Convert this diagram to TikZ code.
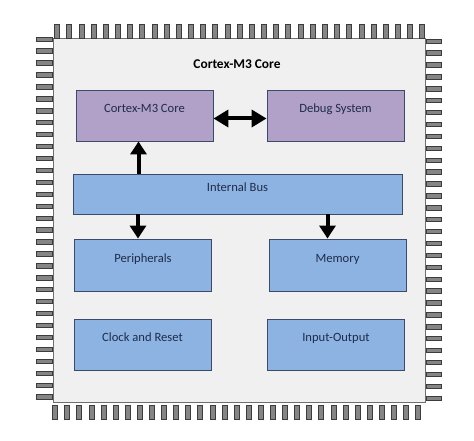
\documentclass[tikz,border=0pt]{standalone}
\usepackage{fontspec}
\setmainfont{Carlito}
\usetikzlibrary{arrows.meta}
\definecolor{chipbg}{HTML}{F0F0F0}
\definecolor{chipline}{HTML}{6E6E6E}
\definecolor{legfill}{HTML}{858585}
\definecolor{legline}{HTML}{3C3C3C}
\definecolor{purplefill}{HTML}{B1A0C7}
\definecolor{bluefill}{HTML}{8DB3E2}
\definecolor{blkline}{HTML}{3B4A66}
\definecolor{blktext}{HTML}{1F2C4A}
\tikzset{blk/.style={draw=blkline,line width=0.9pt,text=blktext,font=\fontsize{12.6}{14}\selectfont,
    minimum width=137pt,minimum height=51pt,inner sep=0pt,text height=8pt,text depth=14pt},
  purplebox/.style={blk,fill=purplefill},
  bluebox/.style={blk,fill=bluefill},
  leg/.style={draw=legline,fill=legfill,line width=0.5pt},
  link/.style={line width=4pt,-{Triangle[width=16pt,length=13pt]}},
  twolink/.style={line width=4pt,{Triangle[width=17pt,length=15pt]}-{Triangle[width=17pt,length=15pt]}}}

\begin{document}
\begin{tikzpicture}[x=1pt,y=-1pt]
\useasboundingbox (0,0) rectangle (474,441);
% package body
\filldraw[fill=chipbg,draw=chipline,line width=0.8pt] (53,38) rectangle (425,402);
% legs
\foreach \i in {0,...,30} {
  \filldraw[leg] ({57+12.17*\i-2.5},24) rectangle ({57+12.17*\i+2.5},38);
  \filldraw[leg] ({55+12.1*\i-2.5},405) rectangle ({55+12.1*\i+2.5},419);
  \filldraw[leg] (36,{39+11.93*\i-2.2}) rectangle (52,{39+11.93*\i+2.2});
  \filldraw[leg] (426,{41+11.9*\i-2.2}) rectangle (441,{41+11.9*\i+2.2});
}
\node[font=\bfseries\fontsize{13.4}{15}\selectfont] (title) at (237,64) {Cortex-M3 Core};
\node[purplebox] (core) at (144.5,115.5) {Cortex-M3 Core};
\node[purplebox] (debug) at (335.5,115.5) {Debug System};
\node[bluebox,minimum width=329pt,minimum height=40pt] (bus) at (237.5,194) {Internal Bus};
\node[bluebox,minimum height=52pt] (periph) at (143,265) {Peripherals};
\node[bluebox,minimum height=52pt] (mem) at (337.5,265) {Memory};
\node[bluebox] (clock) at (142.5,344.5) {Clock and Reset};
\node[bluebox] (io) at (336,344.5) {Input-Output};
% connections
\coordinate (a1) at ([xshift=-6pt]core.south);
\coordinate (a2) at ([xshift=-5pt]periph.north);
\coordinate (a3) at ([xshift=-10pt]mem.north);
\draw[twolink] ([yshift=-3pt]core.east) -- ([yshift=-3pt]debug.west);
\draw[link] (a1 |- bus.north) -- (a1);
\draw[link] (a2 |- bus.south) -- (a2);
\draw[link] (a3 |- bus.south) -- (a3);
\end{tikzpicture}
\end{document}
